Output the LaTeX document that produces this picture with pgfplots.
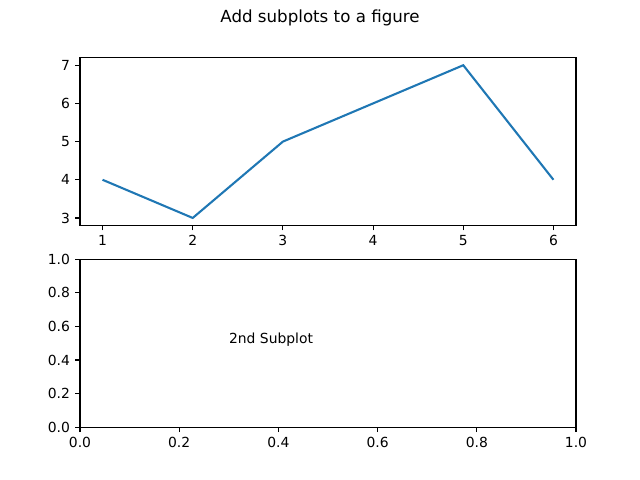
\documentclass[border=0pt]{standalone}
\usepackage{fontspec}
\setmainfont{DejaVu Sans}
\usepackage{pgfplots}
\pgfplotsset{compat=1.18}
\definecolor{tabblue}{HTML}{1F77B4}
\pgfplotsset{
  mpl/.style={
    scale only axis,
    width=357.12bp, height=120.96bp,
    axis line style={line width=0.8bp},
    tick style={line width=0.8bp, black},
    tick align=outside,
    major tick length=3.5bp,
    xtick pos=left, ytick pos=left,
    minor tick num=0,
    /pgf/number format/assume math mode=true,
    every tick label/.append style={font=\fontsize{10bp}{12bp}\selectfont, inner sep=0pt},
    xticklabel shift=3.5bp,
    yticklabel shift=3.5bp,
    anchor=south west,
  }
}
\begin{document}
\begin{tikzpicture}
\path[use as bounding box] (0,0) rectangle (460.8bp,345.6bp);
\node[anchor=north, inner sep=0pt, font=\fontsize{12bp}{14.4bp}\selectfont] at (230.4bp,338.7bp) {Add subplots to a figure};
\begin{axis}[mpl, at={(57.6bp,183.17bp)},
  xmin=0.75, xmax=6.25, ymin=2.8, ymax=7.2,
  xtick={1,2,3,4,5,6}, ytick={3,4,5,6,7}]
\addplot[color=tabblue, line width=1.5bp, mark=none] coordinates {(1,4) (2,3) (3,5) (4,6) (5,7) (6,4)};
\end{axis}
\begin{axis}[mpl, at={(57.6bp,38.016bp)},
  xmin=0, xmax=1, ymin=0, ymax=1,
  xtick={0,0.2,0.4,0.6,0.8,1.0}, ytick={0,0.2,0.4,0.6,0.8,1.0},
  xticklabel style={/pgf/number format/.cd, fixed, fixed zerofill, precision=1},
  yticklabel style={/pgf/number format/.cd, fixed, fixed zerofill, precision=1}]
\node[anchor=base west, inner sep=0pt, font=\fontsize{10bp}{12bp}\selectfont] at (axis cs:0.3,0.5) {2nd Subplot};
\end{axis}
\end{tikzpicture}
\end{document}
